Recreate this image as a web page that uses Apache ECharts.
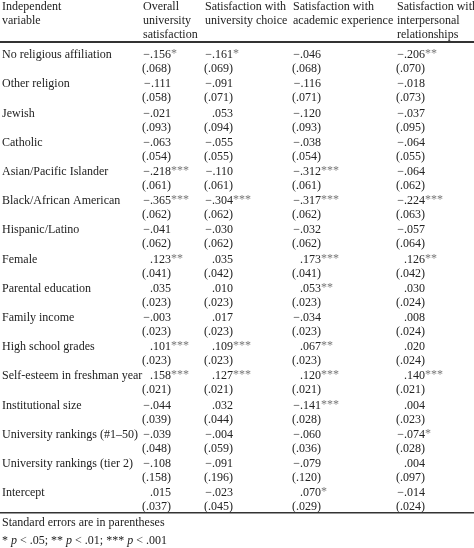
<!DOCTYPE html>
<html><head><meta charset="utf-8">
<script src="https://cdn.jsdelivr.net/npm/echarts@6/dist/echarts.min.js"></script>
<style>html,body{margin:0;padding:0;background:#fff}#c{width:474px;height:548px}</style>
</head><body><div id="c"></div>
<script>
const variables = ["No religious affiliation","Other religion","Jewish","Catholic","Asian/Pacific Islander","Black/African American","Hispanic/Latino","Female","Parental education","Family income","High school grades","Self-esteem in freshman year","Institutional size","University rankings (#1–50)","University rankings (tier 2)","Intercept"];
const headers = [["Overall","university","satisfaction"],["Satisfaction with","university choice"],["Satisfaction with","academic experience"],["Satisfaction with","interpersonal","relationships"]];
const overallCoef = ["−.156*","−.111","−.021","−.063","−.218***","−.365***","−.041",".123**",".035","−.003",".101***",".158***","−.044","−.039","−.108",".015"];
const overallSE = [".068",".058",".093",".054",".061",".062",".062",".041",".023",".023",".023",".021",".039",".048",".158",".037"];
const choiceCoef = ["−.161*","−.091",".053","−.055","−.110","−.304***","−.030",".035",".010",".017",".109***",".127***",".032","−.004","−.091","−.023"];
const choiceSE = [".069",".071",".094",".055",".061",".062",".062",".042",".023",".023",".023",".021",".044",".059",".196",".045"];
const academicCoef = ["−.046","−.116","−.120","−.038","−.312***","−.317***","−.032",".173***",".053**","−.034",".067**",".120***","−.141***","−.060","−.079",".070*"];
const academicSE = [".068",".071",".093",".054",".061",".062",".062",".041",".023",".023",".023",".021",".028",".036",".120",".029"];
const relCoef = ["−.206**","−.018","−.037","−.064","−.064","−.224***","−.057",".126**",".030",".008",".020",".140***",".004","−.074*",".004","−.014"];
const relSE = [".070",".073",".095",".055",".062",".063",".064",".042",".024",".024",".024",".021",".023",".028",".097",".024"];
const footnotes = ["Standard errors are in parentheses","* p < .05; ** p < .01; *** p < .001"];

const cols = [[overallCoef,overallSE],[choiceCoef,choiceSE],[academicCoef,academicSE],[relCoef,relSE]];
const colX = [143,205,293,397];
const font = '"Liberation Serif", "DejaVu Serif", serif';
const fs = 12, col = '#222';
const els = [];
function txt(x,y,s,align,style){els.push({type:'text',x:x,y:y,style:Object.assign({text:s,fill:col,font:fs+'px '+font,textAlign:align||'left',textVerticalAlign:'middle'},style||{})});}
txt(2,7,"Independent");txt(2,21,"variable");
headers.forEach((h,i)=>h.forEach((l,j)=>txt(colX[i],7+j*14,l)));
els.push({type:'rect',shape:{x:0,y:41,width:474,height:2},style:{fill:'#333'}});
const y0=55, pitch=29.2;
variables.forEach((v,r)=>{
  const y=y0+r*pitch;
  txt(2,y,v);
  cols.forEach((c,i)=>{
    const m=c[0][r].match(/^([^*]*)(\**)$/);
    txt(colX[i]+28,y,m[1],'right');
    if(m[2]) els.push({type:'text',x:colX[i]+28,y:y-1,style:{text:m[2],fill:'#777',font:fs+'px '+font,textAlign:'left',textVerticalAlign:'middle'}});
    txt(colX[i]+28,y+14,'('+c[1][r]+')','right');
  });
});
els.push({type:'rect',shape:{x:0,y:512,width:474,height:1.5},style:{fill:'#333'}});
txt(2,523,footnotes[0]);
els.push({type:'text',x:2,y:541,style:{rich:{n:{font:fs+'px '+font,fill:col},i:{font:'italic '+fs+'px '+font,fill:col}},text:'{n|* }{i|p}{n| < .05; ** }{i|p}{n| < .01; *** }{i|p}{n| < .001}',textVerticalAlign:'middle'}});
const chart=echarts.init(document.getElementById('c'));
chart.setOption({animation:false,graphic:els});
</script></body></html>
